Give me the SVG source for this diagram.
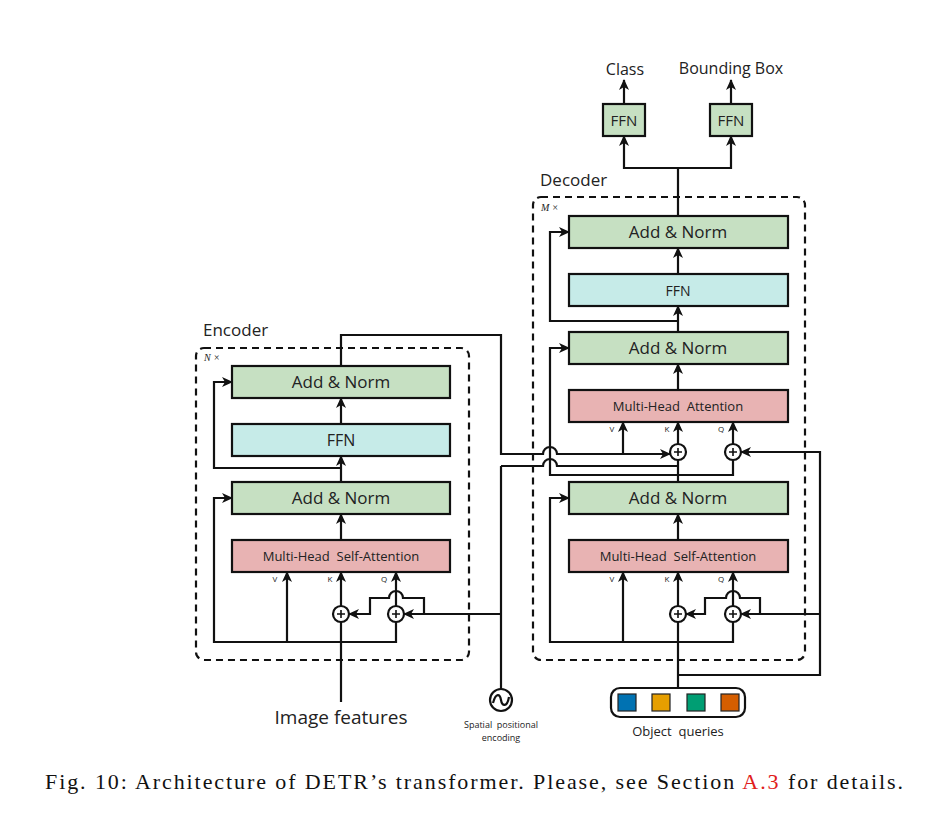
<svg xmlns="http://www.w3.org/2000/svg" width="938" height="828" viewBox="0 0 938 828">
<style>
.g{fill:#C6E0C2;stroke:#111;stroke-width:2.2}
.c{fill:#C6EBE8;stroke:#111;stroke-width:2.2}
.p{fill:#E8B3B3;stroke:#111;stroke-width:2.2}
.t{font-family:"Open Sans","DejaVu Sans",sans-serif;fill:#222;text-anchor:middle}
.w{fill:none;stroke:#111;stroke-width:2.2}
.d{fill:none;stroke:#111;stroke-width:2.2;stroke-dasharray:7 5}
.pl{fill:#fff;stroke:#111;stroke-width:2.2}
</style>
<defs>
<marker id="a" markerWidth="12" markerHeight="12" refX="10" refY="6" orient="auto" markerUnits="userSpaceOnUse">
<path d="M0,1 L11,6 L0,11 L3,6 z" fill="#111"/>
</marker>
<g id="plus"><circle r="8" class="pl"/><path d="M-4,0H4M0,-4V4" stroke="#111" stroke-width="1.6"/></g>
</defs>
<rect width="938" height="828" fill="#fff"/>

<g id="encoder">
<text x="203" y="336" class="t" font-size="17" style="text-anchor:start">Encoder</text>
<rect x="196" y="348" width="273" height="312" rx="8" class="d"/>
<text x="204" y="361" font-family="Liberation Serif,serif" font-style="italic" font-size="10" fill="#222">N ×</text>
</g>
<g id="enc-addnorm2"><rect x="232" y="366" width="218" height="32" class="g"/><text x="341" y="388" class="t" font-size="17" xml:space="preserve">Add &amp; Norm</text></g>
<g id="enc-ffn"><rect x="232" y="424" width="218" height="32" class="c"/><text x="341" y="446" class="t" font-size="16">FFN</text></g>
<g id="enc-addnorm1"><rect x="232" y="482" width="218" height="32" class="g"/><text x="341" y="504" class="t" font-size="17">Add &amp; Norm</text></g>
<g id="enc-mhsa"><rect x="232" y="540" width="218" height="32" class="p"/><text x="341" y="561" class="t" font-size="13" xml:space="preserve">Multi-Head  Self-Attention</text></g>

<g id="decoder">
<text x="540" y="186" class="t" font-size="17" style="text-anchor:start">Decoder</text>
<rect x="533" y="197" width="272" height="463" rx="8" class="d"/>
<text x="541" y="211" font-family="Liberation Serif,serif" font-style="italic" font-size="10" fill="#222">M ×</text>
</g>
<g id="dec-addnorm3"><rect x="569" y="216" width="219" height="32" class="g"/><text x="678" y="238" class="t" font-size="17">Add &amp; Norm</text></g>
<g id="dec-ffn"><rect x="569" y="274" width="219" height="32" class="c"/><text x="678" y="296" class="t" font-size="14">FFN</text></g>
<g id="dec-addnorm2"><rect x="569" y="332" width="219" height="32" class="g"/><text x="678" y="354" class="t" font-size="17">Add &amp; Norm</text></g>
<g id="dec-mha"><rect x="569" y="390" width="219" height="32" class="p"/><text x="678" y="411" class="t" font-size="13" xml:space="preserve">Multi-Head  Attention</text></g>
<g id="dec-addnorm1"><rect x="569" y="482" width="219" height="32" class="g"/><text x="678" y="504" class="t" font-size="17">Add &amp; Norm</text></g>
<g id="dec-mhsa"><rect x="569" y="540" width="219" height="32" class="p"/><text x="678" y="561" class="t" font-size="13" xml:space="preserve">Multi-Head  Self-Attention</text></g>

<g id="ffn-class"><rect x="603" y="104" width="42" height="32" class="g"/><text x="624" y="126" class="t" font-size="15">FFN</text></g>
<g id="ffn-box"><rect x="710" y="104" width="42" height="32" class="g"/><text x="731" y="126" class="t" font-size="15">FFN</text></g>
<g id="out-labels">
<text x="625" y="75" class="t" font-size="16">Class</text>
<text x="731" y="74" class="t" font-size="16">Bounding Box</text>
</g>

<g id="vkq-labels" class="t" font-size="8">
<text x="275" y="582">V</text><text x="330" y="582">K</text><text x="384" y="582">Q</text>
<text x="612" y="582">V</text><text x="667" y="582">K</text><text x="721" y="582">Q</text>
<text x="612" y="432">V</text><text x="667" y="432">K</text><text x="721" y="432">Q</text>
</g>

<g id="connectors" class="w">
<path d="M341,702V622"/>
<path d="M341,606V572" marker-end="url(#a)"/>
<path d="M396,622V642H214V498H232" marker-end="url(#a)"/>
<path d="M287,642V572" marker-end="url(#a)"/>
<path d="M396,606V572" marker-end="url(#a)"/>
<path d="M501,689V466"/>
<path d="M501,614H404" marker-end="url(#a)"/>
<path d="M424,614V598H403A7,7 0 0 0 389,598H370V614H349" marker-end="url(#a)"/>
<path d="M341,540V514" marker-end="url(#a)"/>
<path d="M341,482V456" marker-end="url(#a)"/>
<path d="M341,424V398" marker-end="url(#a)"/>
<path d="M341,468H214V382H232" marker-end="url(#a)"/>
<path d="M341,366V335H501V454H543A7,7 0 0 1 557,454H670" marker-end="url(#a)"/>
<path d="M501,466H543A7,7 0 0 1 557,466H678"/>
<path d="M678,688V622"/>
<path d="M678,606V572" marker-end="url(#a)"/>
<path d="M733,622V642H550V498H569" marker-end="url(#a)"/>
<path d="M623,642V572" marker-end="url(#a)"/>
<path d="M733,606V572" marker-end="url(#a)"/>
<path d="M678,675H820V452H741" marker-end="url(#a)"/>
<path d="M820,614H741" marker-end="url(#a)"/>
<path d="M760,614V598H740A7,7 0 0 0 726,598H705V614H686" marker-end="url(#a)"/>
<path d="M678,540V514" marker-end="url(#a)"/>
<path d="M678,482V460"/>
<path d="M733,460V475H550V348H569" marker-end="url(#a)"/>
<path d="M623,454V422" marker-end="url(#a)"/>
<path d="M678,444V422" marker-end="url(#a)"/>
<path d="M733,444V422" marker-end="url(#a)"/>
<path d="M678,390V364" marker-end="url(#a)"/>
<path d="M678,332V306" marker-end="url(#a)"/>
<path d="M678,274V248" marker-end="url(#a)"/>
<path d="M678,321H550V232H569" marker-end="url(#a)"/>
<path d="M678,216V168H624V136" marker-end="url(#a)"/>
<path d="M678,168H731V136" marker-end="url(#a)"/>
<path d="M624,104V80" marker-end="url(#a)"/>
<path d="M731,104V80" marker-end="url(#a)"/>
</g>

<g id="plus-nodes">
<use href="#plus" x="341" y="614"/><use href="#plus" x="396" y="614"/>
<use href="#plus" x="678" y="614"/><use href="#plus" x="733" y="614"/>
<use href="#plus" x="678" y="452"/><use href="#plus" x="733" y="452"/>
</g>

<g id="image-features"><text x="341" y="724" class="t" font-size="19">Image features</text></g>
<g id="spatial-pos">
<circle cx="501" cy="700" r="11" class="pl"/>
<path d="M493,703C496,692 500,694 501,700S507,708 509,697" class="w" stroke-width="1.6"/>
<text x="501" y="728" class="t" font-size="9" xml:space="preserve">Spatial  positional</text>
<text x="501" y="741" class="t" font-size="9">encoding</text>
</g>
<g id="object-queries">
<rect x="611" y="688" width="134" height="29" rx="9" class="pl"/>
<rect x="618" y="694" width="18" height="17" fill="#0072B2" stroke="#222" stroke-width="1.2"/>
<rect x="652" y="694" width="18" height="17" fill="#E69F00" stroke="#222" stroke-width="1.2"/>
<rect x="687" y="694" width="18" height="17" fill="#009E73" stroke="#222" stroke-width="1.2"/>
<rect x="721" y="694" width="18" height="17" fill="#D55E00" stroke="#222" stroke-width="1.2"/>
<text x="678" y="736" class="t" font-size="13" xml:space="preserve">Object  queries</text>
</g>

<g id="caption"><text x="45" y="789" font-family="Liberation Serif,serif" font-size="22" fill="#111" textLength="858" lengthAdjust="spacing">Fig. 10: Architecture of DETR’s transformer. Please, see Section <tspan fill="#E0201B">A.3</tspan> for details.</text></g>
</svg>
